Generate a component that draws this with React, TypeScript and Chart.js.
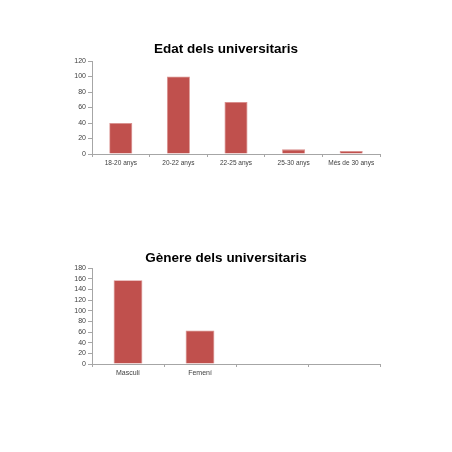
import React, { useEffect, useRef } from 'react'
import { Chart, registerables } from 'chart.js'

Chart.register(...registerables)

const ageLabels = ['18-20 anys', '20-22 anys', '22-25 anys', '25-30 anys', 'Més de 30 anys']
const ageValues = [40, 100, 67, 6, 4]

const genderLabels = ['Masculí', 'Femení', '', '']
const genderValues = [157, 63, null, null]

const RED = '#C0504D'
const AXIS = '#a6a6a6'
const TEXT = '#404040'
const FONT = "'Liberation Sans', Arial, sans-serif"

type BarProps = {
  title: string
  labels: string[]
  values: (number | null)[]
  max: number
  xFont: number
  titleY: number
  areaTop: number
  top: number
}

const BarChart = ({ title, labels, values, max, xFont, titleY, areaTop, top }: BarProps) => {
  const ref = useRef<HTMLCanvasElement>(null)

  useEffect(() => {
    if (!ref.current) return
    // title centred on the whole canvas, not on the plot area
    const titlePlugin = {
      id: 'centerTitle',
      afterDraw: (c: Chart) => {
        const ctx = c.ctx
        ctx.save()
        ctx.font = `bold 13.5px ${FONT}`
        ctx.fillStyle = '#000'
        ctx.textAlign = 'center'
        ctx.textBaseline = 'middle'
        ctx.fillText(title, 226, titleY)
        ctx.restore()
      },
    }
    const chart = new Chart(ref.current, {
      type: 'bar',
      data: {
        labels,
        datasets: [{
          data: values,
          backgroundColor: RED,
          borderColor: '#d98e8c',
          borderWidth: 0.8,
          categoryPercentage: 1,
          barPercentage: 0.4,
        }],
      },
      options: {
        animation: false,
        responsive: false,
        devicePixelRatio: 1,
        layout: { padding: { left: 52, right: 72, top: areaTop, bottom: 6 } },
        plugins: {
          legend: { display: false },
          tooltip: { enabled: false },
        },
        scales: {
          x: {
            afterFit: (s: any) => { s.height = 20 },
            border: { display: true, color: AXIS },
            grid: { offset: true, drawOnChartArea: false, drawTicks: true, tickLength: 3, color: AXIS },
            ticks: { color: TEXT, font: { family: FONT, size: xFont }, padding: 2, maxRotation: 0, autoSkip: false },
          },
          y: {
            min: 0,
            max,
            afterFit: (s: any) => { s.width = 40 },
            border: { display: true, color: AXIS },
            grid: { drawOnChartArea: false, drawTicks: true, tickLength: 4, color: AXIS },
            ticks: { stepSize: 20, autoSkip: false, color: TEXT, font: { family: FONT, size: 7 }, padding: 2 },
          },
        },
      },
      plugins: [titlePlugin],
    })
    return () => chart.destroy()
  }, [])

  return (
    <canvas
      ref={ref}
      width={452}
      height={180}
      style={{ position: 'absolute', left: 0, top, width: 452, height: 180 }}
    />
  )
}

const App = () => (
  <div style={{ position: 'absolute', left: 0, top: 0, width: 452, height: 452, background: '#fff' }}>
    <BarChart title="Edat dels universitaris" labels={ageLabels} values={ageValues} max={120} xFont={6.5} titleY={49} areaTop={61} top={0} />
    <BarChart title="Gènere dels universitaris" labels={genderLabels} values={genderValues} max={180} xFont={7} titleY={48} areaTop={58} top={210} />
  </div>
)

export default App
